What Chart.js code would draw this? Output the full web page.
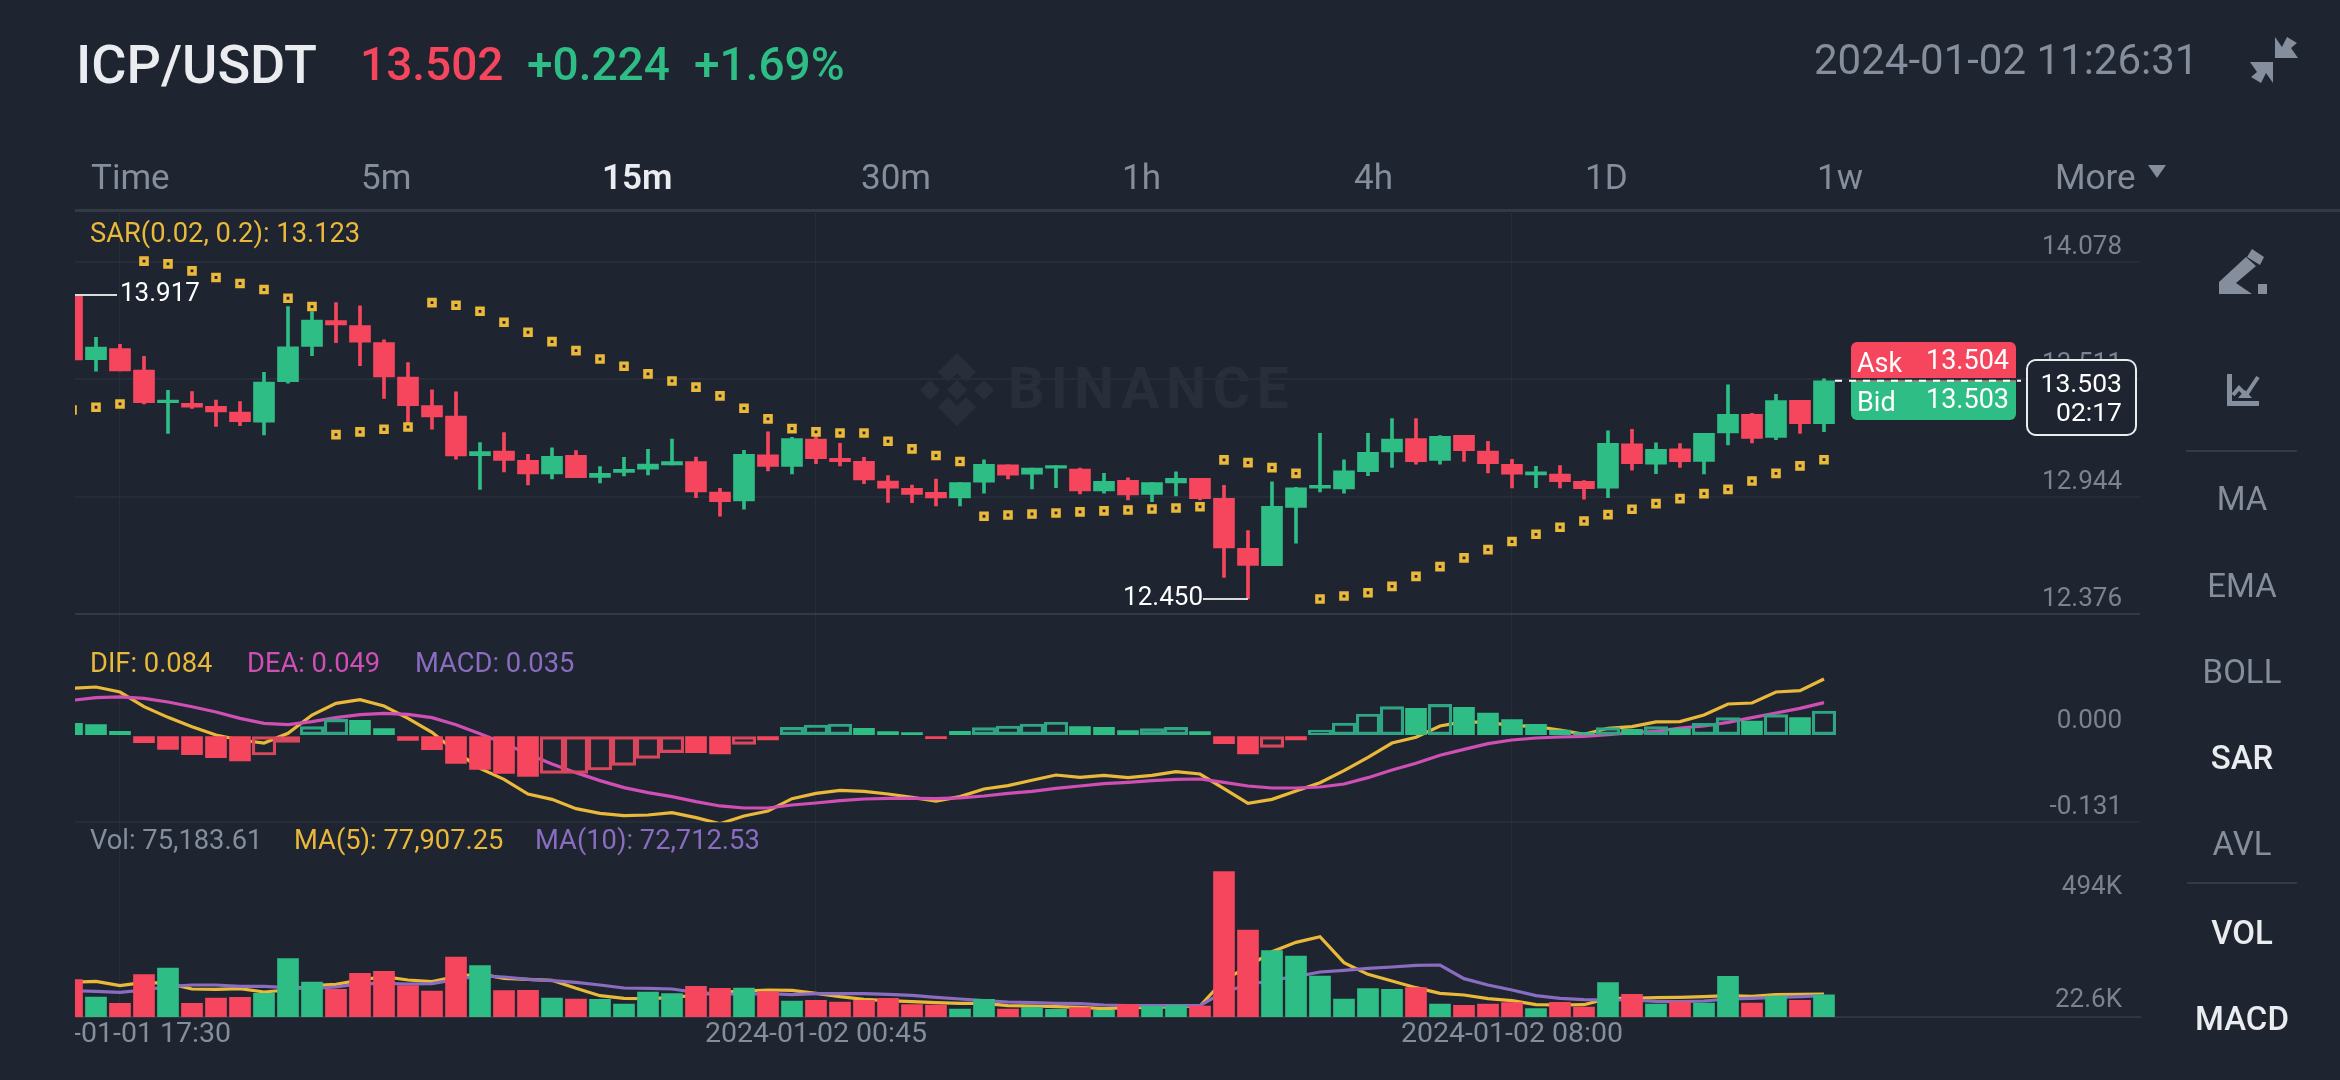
<!DOCTYPE html>
<html>
<head>
<meta charset="utf-8">
<title>ICP/USDT</title>
<script src="https://cdn.jsdelivr.net/npm/chart.js@4"></script>
<style>
  html, body { margin: 0; padding: 0; width: 2340px; height: 1080px; overflow: hidden; background: #1f2530; }
  #chart { position: absolute; left: 75px; top: 0; z-index: 2; }
  .t { position: absolute; white-space: nowrap; font-family: Roboto, sans-serif; line-height: 1; z-index: 3; }
  .under { z-index: 1; }
  .rule { position: absolute; background: #343a45; z-index: 1; }
  svg { position: absolute; left: 0; top: 0; }
</style>
</head>
<body>
<svg width="2340" height="1080" style="z-index:0">
  <!-- watermark -->
  <g fill="#292f3a">
    <path d="M957 353 L976 372 L966 382 L957 373 L948 382 L938 372 Z"/>
    <path d="M957 426 L976 407 L966 397 L957 406 L948 397 L938 407 Z"/>
    <path d="M957 380 L967 390 L957 400 L947 390 Z"/>
    <path d="M930 380 L940 390 L930 400 L920 390 Z"/>
    <path d="M984 380 L994 390 L984 400 L974 390 Z"/>
  </g>
</svg>
<svg width="2340" height="1080" style="z-index:3">
  <g fill="#848e9c">
    <!-- collapse icon -->
    <path d="M2275 58 L2298 58 L2291 48 L2297 43 L2287 37 L2282 47 L2275 37 Z"/>
    <path d="M2273 62 L2250 62 L2257 72 L2251 77 L2261 83 L2266 73 L2273 83 Z"/>
    <path d="M2148 165 L2166 165 L2157 178 Z"/>
    <!-- pen icon -->
    <path d="M2219 294 L2219 282 L2246 257 L2256 266 L2236 283 L2252 294 Z"/>
    <path d="M2252 249 L2264 257 L2260 265 L2247 257 Z"/>
    <rect x="2258" y="284" width="9" height="10"/>
    <!-- indicator icon -->
    <path d="M2227 374 L2232 374 L2232 401 L2259 401 L2259 406 L2227 406 Z"/>
    <path d="M2245 390 L2252 398 L2238 398 Z"/>
  </g>
  <path d="M2233 395 L2239 388 L2246 395 L2258 377" fill="none" stroke="#848e9c" stroke-width="4"/>
</svg>
<canvas id="chart" width="2265" height="1080"></canvas>
<script>
// 15m candles
const opens = [13.917,13.605,13.658,13.554,13.397,13.394,13.380,13.352,13.303,13.499,13.668,13.793,13.769,13.687,13.521,13.383,13.332,13.142,13.164,13.119,13.053,13.143,13.037,13.061,13.076,13.097,13.113,12.966,12.923,13.145,13.089,13.221,13.129,13.114,13.019,12.984,12.965,12.937,13.013,13.097,13.052,13.081,13.077,12.971,13.023,12.955,13.010,13.032,12.936,12.694,12.611,12.892,12.984,12.981,13.064,13.159,13.224,13.118,13.240,13.164,13.100,13.048,13.053,13.018,12.984,13.198,13.100,13.174,13.114,13.251,13.341,13.230,13.409,13.296];
const highs = [13.917,13.713,13.679,13.621,13.457,13.451,13.410,13.402,13.544,13.861,13.837,13.880,13.864,13.700,13.591,13.459,13.449,13.204,13.253,13.148,13.179,13.166,13.089,13.134,13.172,13.221,13.135,12.984,13.167,13.256,13.230,13.233,13.201,13.134,13.045,13.000,13.029,13.011,13.121,13.097,13.081,13.093,13.081,13.056,13.035,13.011,13.063,13.032,12.998,12.780,13.015,12.989,13.249,13.121,13.249,13.320,13.320,13.238,13.240,13.211,13.124,13.090,13.093,13.021,13.261,13.269,13.203,13.200,13.249,13.483,13.346,13.438,13.409,13.512];
const lows = [13.603,13.549,13.550,13.391,13.249,13.370,13.283,13.286,13.241,13.491,13.624,13.687,13.576,13.418,13.298,13.269,13.124,12.979,13.063,13.000,13.029,13.035,13.010,13.044,13.048,13.097,12.939,12.849,12.883,13.068,13.053,13.103,13.092,13.006,12.916,12.915,12.899,12.899,12.960,13.029,12.981,12.987,12.957,12.961,12.928,12.920,12.947,12.928,12.554,12.450,12.611,12.719,12.966,12.961,13.045,13.085,13.101,13.101,13.114,13.058,12.986,12.987,12.986,12.931,12.939,13.071,13.055,13.085,13.053,13.193,13.203,13.219,13.249,13.257];
const closes = [13.603,13.665,13.550,13.397,13.410,13.375,13.352,13.306,13.497,13.666,13.796,13.772,13.689,13.521,13.383,13.328,13.140,13.161,13.118,13.053,13.138,13.035,13.056,13.076,13.101,13.113,12.966,12.920,13.148,13.089,13.224,13.127,13.113,13.024,12.984,12.955,12.937,13.011,13.100,13.047,13.081,13.093,12.971,13.018,12.952,13.011,13.032,12.934,12.696,12.612,12.897,12.986,12.998,13.068,13.158,13.221,13.113,13.235,13.166,13.103,13.052,13.063,13.016,12.982,13.201,13.103,13.172,13.113,13.249,13.341,13.225,13.407,13.296,13.503];
const sarValues = [13.362,13.375,13.391,14.080,14.067,14.033,14.001,13.972,13.943,13.901,13.861,13.243,13.256,13.269,13.280,13.880,13.867,13.838,13.785,13.737,13.692,13.648,13.608,13.573,13.536,13.502,13.472,13.430,13.370,13.319,13.272,13.256,13.251,13.251,13.211,13.174,13.142,13.113,12.849,12.855,12.860,12.865,12.870,12.875,12.879,12.884,12.889,12.895,13.121,13.108,13.084,13.056,12.450,12.464,12.480,12.511,12.559,12.606,12.648,12.688,12.727,12.762,12.796,12.826,12.857,12.883,12.910,12.934,12.958,12.979,13.019,13.056,13.092,13.122];

const macdDif = [.0716,.0736,.0660,.0438,.0277,.0136,.0010,-.0066,-.0111,.0035,.0312,.0489,.0544,.0449,.0262,.0050,-.0242,-.0494,-.0660,-.0882,-.0963,-.1104,-.1174,-.1210,-.1200,-.1164,-.1240,-.1331,-.1215,-.1139,-.0953,-.0872,-.0827,-.0842,-.0882,-.0932,-.0988,-.0922,-.0806,-.0756,-.0675,-.0595,-.0630,-.0600,-.0635,-.0600,-.0544,-.0580,-.0801,-.1023,-.0963,-.0837,-.0711,-.0529,-.0328,-.0111,-.0025,.0146,.0212,.0197,.0156,.0136,.0086,.0020,.0111,.0136,.0207,.0212,.0312,.0479,.0494,.0660,.0680,.0857];
const macdDea = [.0534,.0575,.0585,.0564,.0509,.0438,.0358,.0262,.0186,.0166,.0212,.0272,.0318,.0338,.0323,.0272,.0166,.0030,-.0116,-.0277,-.0428,-.0559,-.0680,-.0786,-.0862,-.0922,-.0998,-.1063,-.1094,-.1094,-.1048,-.1018,-.0983,-.0958,-.0948,-.0948,-.0953,-.0942,-.0912,-.0872,-.0842,-.0796,-.0761,-.0726,-.0706,-.0680,-.0660,-.0655,-.0706,-.0761,-.0791,-.0791,-.0776,-.0731,-.0635,-.0519,-.0418,-.0297,-.0207,-.0121,-.0066,-.0035,-.0020,-.0010,.0015,.0045,.0066,.0116,.0146,.0202,.0272,.0343,.0413,.0499];
const macdHist = [.0186,.0166,.0066,-.0106,-.0207,-.0287,-.0333,-.0383,-.0292,-.0101,.0136,.0247,.0232,.0106,-.0071,-.0212,-.0418,-.0509,-.0570,-.0615,-.0570,-.0570,-.0519,-.0449,-.0343,-.0257,-.0257,-.0277,-.0131,-.0066,.0126,.0161,.0176,.0111,.0060,.0045,-.0045,.0066,.0121,.0146,.0176,.0207,.0136,.0126,.0076,.0106,.0126,.0060,-.0121,-.0277,-.0176,-.0066,.0086,.0192,.0328,.0438,.0413,.0474,.0428,.0343,.0242,.0171,.0086,.0045,.0121,.0096,.0136,.0106,.0186,.0272,.0222,.0318,.0272,.0373];
const macdHollow = [8,9,10,11,20,21,22,23,24,25,28,30,31,32,38,39,40,41,45,46,50,52,53,54,55,57,64,66,68,69,71,73];

// volumes in thousands
const volumes = [126.9,68.0,46.5,143.9,166.6,46.5,64.6,66.8,80.4,198.3,119.0,94.0,148.4,155.2,106.5,88.4,203.9,174.5,89.5,90.6,64.6,61.2,60.0,44.2,85.0,79.3,104.2,97.4,98.6,86.1,54.4,56.7,51.0,56.7,63.4,41.9,40.8,27.2,60.0,27.2,32.9,26.1,31.7,22.6,43.1,37.4,39.7,37.4,494.0,295.7,225.5,207.3,139.4,61.2,96.3,94.0,99.7,44.2,39.7,44.2,48.7,28.3,49.9,34.0,116.7,77.0,44.2,51.0,47.6,138.2,47.6,71.4,56.7,75.2];
const volMa5 = [117.8,121.2,106.5,117.8,114.4,95.2,94.0,96.3,85.0,91.8,106.5,111.0,125.8,137.1,125.8,120.1,137.1,146.2,131.4,128.0,124.6,97.4,72.5,63.4,62.3,65.7,74.8,83.8,88.4,91.8,90.6,80.4,69.1,60.0,55.5,52.1,48.7,46.5,46.5,38.5,37.4,35.1,32.9,28.3,31.7,32.9,35.1,37.4,125.8,171.1,222.1,253.8,273.1,184.7,145.0,122.4,99.7,80.4,74.8,62.3,55.5,41.9,40.8,41.9,63.4,63.4,65.7,66.8,69.1,72.5,70.2,75.9,77.0,77.9];
const volMa10 = [89.5,87.2,83.8,91.8,103.1,108.8,108.8,104.2,104.2,99.7,97.4,102.0,113.3,114.4,112.2,113.3,128.0,139.4,136.0,128.0,123.5,117.8,108.8,98.6,97.4,95.2,83.8,78.2,78.2,79.3,75.9,79.3,79.3,79.3,77.0,73.6,66.8,61.2,55.5,51.0,48.7,46.5,45.3,40.8,38.5,38.5,38.5,38.5,86.1,108.8,125.8,137.1,153.0,158.6,165.4,170.0,175.6,176.7,130.3,108.8,91.8,72.5,63.4,58.9,57.8,57.8,53.3,52.1,54.4,61.2,63.4,66.8,69.1,72.5];

// axes
const priceTicks = [14.078, 13.511, 12.944, 12.376];
const macdTicks = [0, -0.131];
const volTicks = [494, 22.6];
const volTickLabels = ["494K", "22.6K"];
const timeTickIndex = [2, 31, 60];
const timeTickLabels = ["2024-01-01 17:30", "2024-01-02 00:45", "2024-01-02 08:00"];
const lastPrice = 13.503;

const RED = "#f6465d";
const GREEN = "#2ebd85";
const YELLOW = "#eab93a";
const PINK = "#cf4fb4";
const PURPLE = "#8a6cc0";
const GRAY = "#848e9c";
const TICK_GRAY = "#7b8391";
const GRID = "#272d38";
const FONT = "Roboto, sans-serif";

function addText(text, x, y, size, color, weight, align) {
  let el = document.createElement("div");
  el.className = "t";
  el.textContent = text;
  el.style.fontSize = size + "px";
  el.style.color = color;
  el.style.fontWeight = weight || 400;
  el.style.top = y - size / 2 + "px";
  if (align === "right") el.style.right = 2340 - x + "px";
  else if (align === "center") { el.style.left = x + "px"; el.style.transform = "translateX(-50%)"; }
  else el.style.left = x + "px";
  document.body.appendChild(el);
  return el;
}

function addBox(x, y, w, h, bg, radius, border, under) {
  let el = document.createElement("div");
  el.style.cssText = "position:absolute;box-sizing:border-box;left:" + x + "px;top:" + y + "px;width:" + w + "px;height:" + h +
    "px;background:" + bg + ";border-radius:" + radius + ";z-index:" + (under ? 1 : 3) + ";" + (border ? "border:2px solid " + border + ";" : "");
  document.body.appendChild(el);
}

function addRule(x, y, w, h, color) {
  let el = document.createElement("div");
  el.className = "rule";
  el.style.cssText += "left:" + x + "px;top:" + y + "px;width:" + w + "px;height:" + h + "px;" + (color ? "background:" + color + ";" : "");
  document.body.appendChild(el);
}

// header
addText("ICP/USDT", 76, 65, 54, "#eaecef", 500);
addText("13.502", 360, 64, 46, RED, 500);
addText("+0.224", 527, 64, 46, GREEN, 500);
addText("+1.69%", 694, 64, 46, GREEN, 500);
addText("2024-01-02 11:26:31", 1814, 60, 42, GRAY);

// interval tabs
addText("Time", 91, 177, 35, GRAY);
addText("5m", 361, 177, 35, GRAY);
addText("15m", 602, 177, 35, "#eaecef", 600);
addText("30m", 861, 177, 35, GRAY);
addText("1h", 1122, 177, 35, GRAY);
addText("4h", 1354, 177, 35, GRAY);
addText("1D", 1585, 177, 35, GRAY);
addText("1w", 1817, 177, 35, GRAY);
addText("More", 2055, 177, 35, GRAY);
addRule(75, 209, 2265, 3);

// legends
addText("SAR(0.02, 0.2): 13.123", 90, 234, 27.3, YELLOW);
addText("DIF: 0.084", 90, 664, 27.3, YELLOW);
addText("DEA: 0.049", 247, 664, 27.3, PINK);
addText("MACD: 0.035", 415, 664, 27.3, PURPLE);
addText("Vol: 75,183.61", 90, 841, 27.3, GRAY);
addText("MA(5): 77,907.25", 294, 841, 27.3, YELLOW);
addText("MA(10): 72,712.53", 535, 841, 27.3, PURPLE);

// watermark wordmark
let mark = addText("BINANCE", 1008, 388, 57, "#292f3a", 700);
mark.className = "t under";
mark.style.letterSpacing = "6.5px";

// indicator side panel
addRule(2186, 450, 111, 2);
addRule(2187, 882, 110, 2);
addText("MA", 2242, 498, 33, GRAY, 400, "center");
addText("EMA", 2242, 585, 33, GRAY, 400, "center");
addText("BOLL", 2242, 671, 33, GRAY, 400, "center");
addText("SAR", 2242, 757, 33, "#eaecef", 500, "center");
addText("AVL", 2242, 843, 33, GRAY, 400, "center");
addText("VOL", 2242, 932, 33, "#eaecef", 500, "center");
addText("MACD", 2242, 1018, 33, "#eaecef", 500, "center");

// ask / bid tags sit under the canvas so the last-price dashes cross them
addBox(1851, 342, 165, 39, RED, "6px 6px 0 0", null, true);
addBox(1851, 381, 165, 39, GREEN, "0 0 6px 6px", null, true);
addText("Ask", 1857, 363, 27, "#fff");
addText("13.504", 2009, 360, 27, "#fff", 400, "right");
addText("Bid", 1857, 402, 27, "#fff");
addText("13.503", 2009, 399, 27, "#fff", 400, "right");

// countdown box covers the 13.511 tick
addBox(2026, 359, 111, 77, "#1f2530", "10px", "#eaecef");
addText("13.503", 2122, 383, 26.5, "#fff", 400, "right");
addText("02:17", 2122, 412, 26.5, "#fff", 400, "right");

function points(values) {
  return values.map((v, i) => ({ x: i, y: v }));
}

function candleColor(i) {
  return closes[i] >= opens[i] ? GREEN : RED;
}

function barSet(axis, data, width, color, order, extra) {
  return Object.assign({
    type: "bar", yAxisID: axis, data: data, grouped: false,
    barThickness: width, maxBarThickness: width,
    backgroundColor: color, borderWidth: 0, order: order,
  }, extra || {});
}

function lineSet(axis, values, color, order) {
  return {
    type: "line", yAxisID: axis, data: points(values), borderColor: color,
    borderWidth: 3.2, pointRadius: 0, tension: 0, order: order,
  };
}

// stop tick labels from pushing the plot area in
function noPadding(scale) {
  scale.paddingLeft = 0;
  scale.paddingRight = 0;
  scale.paddingTop = 0;
  scale.paddingBottom = 0;
}

// draws the high/low markers, the last-price dashes and the volume labels
const markersPlugin = {
  id: "markers",
  afterDatasetsDraw(chart) {
    const ctx = chart.ctx;
    const px = chart.scales.x;
    const py = chart.scales.price;
    const pv = chart.scales.vol;
    const maxHigh = Math.max(...highs);
    const minLow = Math.min(...lows);
    const highX = px.getPixelForValue(highs.indexOf(maxHigh));
    const lowX = px.getPixelForValue(lows.indexOf(minLow));

    ctx.save();
    ctx.font = "26px " + FONT;
    ctx.fillStyle = "#fff";
    ctx.strokeStyle = "#d8dade";
    ctx.lineWidth = 2;
    ctx.textBaseline = "middle";

    ctx.beginPath();
    ctx.moveTo(highX + 3, py.getPixelForValue(maxHigh));
    ctx.lineTo(highX + 45, py.getPixelForValue(maxHigh));
    ctx.moveTo(lowX, py.getPixelForValue(minLow));
    ctx.lineTo(lowX - 45, py.getPixelForValue(minLow));
    ctx.stroke();

    ctx.textAlign = "left";
    ctx.fillText(maxHigh.toFixed(3), highX + 48, py.getPixelForValue(maxHigh));
    ctx.textAlign = "right";
    ctx.fillText(minLow.toFixed(3), lowX - 45, py.getPixelForValue(minLow));

    // the max label hangs below its level, the min label sits above it
    ctx.fillStyle = TICK_GRAY;
    ctx.fillText(volTickLabels[0], pv.right - 18, pv.getPixelForValue(volTicks[0]) + 16);
    ctx.fillText(volTickLabels[1], pv.right - 18, pv.getPixelForValue(volTicks[1]) - 10);

    const lastX = px.getPixelForValue(opens.length - 1);
    ctx.strokeStyle = "#ffffff";
    ctx.setLineDash([7, 7]);
    ctx.beginPath();
    ctx.moveTo(lastX + 11, py.getPixelForValue(lastPrice));
    ctx.lineTo(1946, py.getPixelForValue(lastPrice));
    ctx.stroke();
    ctx.restore();
  },
};

function paneAxis(stackWeight, min, max, ticks, label, grid) {
  return {
    type: "linear", position: "right", stack: "panes", stackWeight: stackWeight,
    min: min, max: max,
    afterBuildTicks: (scale) => { scale.ticks = ticks.map((v) => ({ value: v })); },
    afterFit: (scale) => { scale.width = 0; noPadding(scale); },
    border: { display: false },
    grid: { color: grid, drawTicks: false, lineWidth: 2 },
    ticks: {
      display: label !== null, mirror: true, padding: -18, autoSkip: false,
      color: TICK_GRAY, font: { family: FONT, size: 26 },
      labelOffset: -14.5, callback: label || undefined,
    },
  };
}

const bodyData = opens.map((o, i) => ({ x: i, y: [o, closes[i]] }));
const wickData = opens.map((o, i) => ({ x: i, y: [lows[i], highs[i]] }));
const solidHist = points(macdHist).filter((p) => !macdHollow.includes(p.x));
const hollowHist = points(macdHist).filter((p) => macdHollow.includes(p.x));
const histColor = (ctx) => (ctx.raw && ctx.raw.y >= 0 ? GREEN : RED);
const hollowColor = (ctx) => (ctx.raw && ctx.raw.y >= 0 ? "#2fa583" : "#d9475c");

new Chart(document.getElementById("chart"), {
  data: {
    datasets: [
      {
        type: "line", yAxisID: "price", data: points(sarValues), showLine: false,
        pointStyle: "rect", pointRadius: 4.4, pointBorderWidth: 3.4,
        pointBorderColor: YELLOW, pointBackgroundColor: "#1f2530", order: 0,
      },
      barSet("price", bodyData, 21, opens.map((o, i) => candleColor(i)), 1),
      barSet("price", wickData, 3, opens.map((o, i) => candleColor(i)), 2),

      lineSet("macd", macdDif, YELLOW, 4),
      lineSet("macd", macdDea, PINK, 3),
      barSet("macd", solidHist, 21, histColor, 1),
      barSet("macd", hollowHist, 23.5, "rgba(0,0,0,0)", 1, {
        borderColor: hollowColor, borderWidth: 2.5, borderSkipped: false,
      }),

      lineSet("vol", volMa5, YELLOW, 4),
      lineSet("vol", volMa10, PURPLE, 3),
      barSet("vol", points(volumes), 21, opens.map((o, i) => candleColor(i)), 1),
    ],
  },
  options: {
    responsive: false,
    animation: false,
    devicePixelRatio: 1,
    layout: { autoPadding: false, padding: { top: 211, right: 200, bottom: 23, left: 0 } },
    plugins: { legend: { display: false }, tooltip: { enabled: false } },
    scales: {
      x: {
        type: "linear", offset: false,
        min: 0.125, max: 86.167,
        afterBuildTicks: (scale) => { scale.ticks = timeTickIndex.map((v) => ({ value: v })); },
        afterFit: (scale) => { scale.height = 40; noPadding(scale); },
        border: { display: true, color: "#30363f", width: 2 },
        grid: { color: GRID, drawTicks: false, offset: false },
        ticks: {
          autoSkip: false, maxRotation: 0, minRotation: 0, padding: 1,
          color: GRAY, font: { family: FONT, size: 28.5 },
          callback: (v) => timeTickLabels[timeTickIndex.indexOf(v)],
        },
      },
      price: paneAxis(403.3, 12.376, 14.322, priceTicks, (v) => v.toFixed(3),
        (ctx) => (ctx.tick && ctx.tick.value === 12.376 ? "#343a45" : GRID)),
      macd: paneAxis(208, -0.131, 0.1835, macdTicks, (v) => v.toFixed(3),
        (ctx) => (ctx.tick && ctx.tick.value === 0 ? "rgba(0,0,0,0)" : GRID)),
      vol: paneAxis(194.7, 0, 661.8, volTicks, null, "rgba(0,0,0,0)"),
    },
  },
  plugins: [markersPlugin],
});
</script>
</body>
</html>
